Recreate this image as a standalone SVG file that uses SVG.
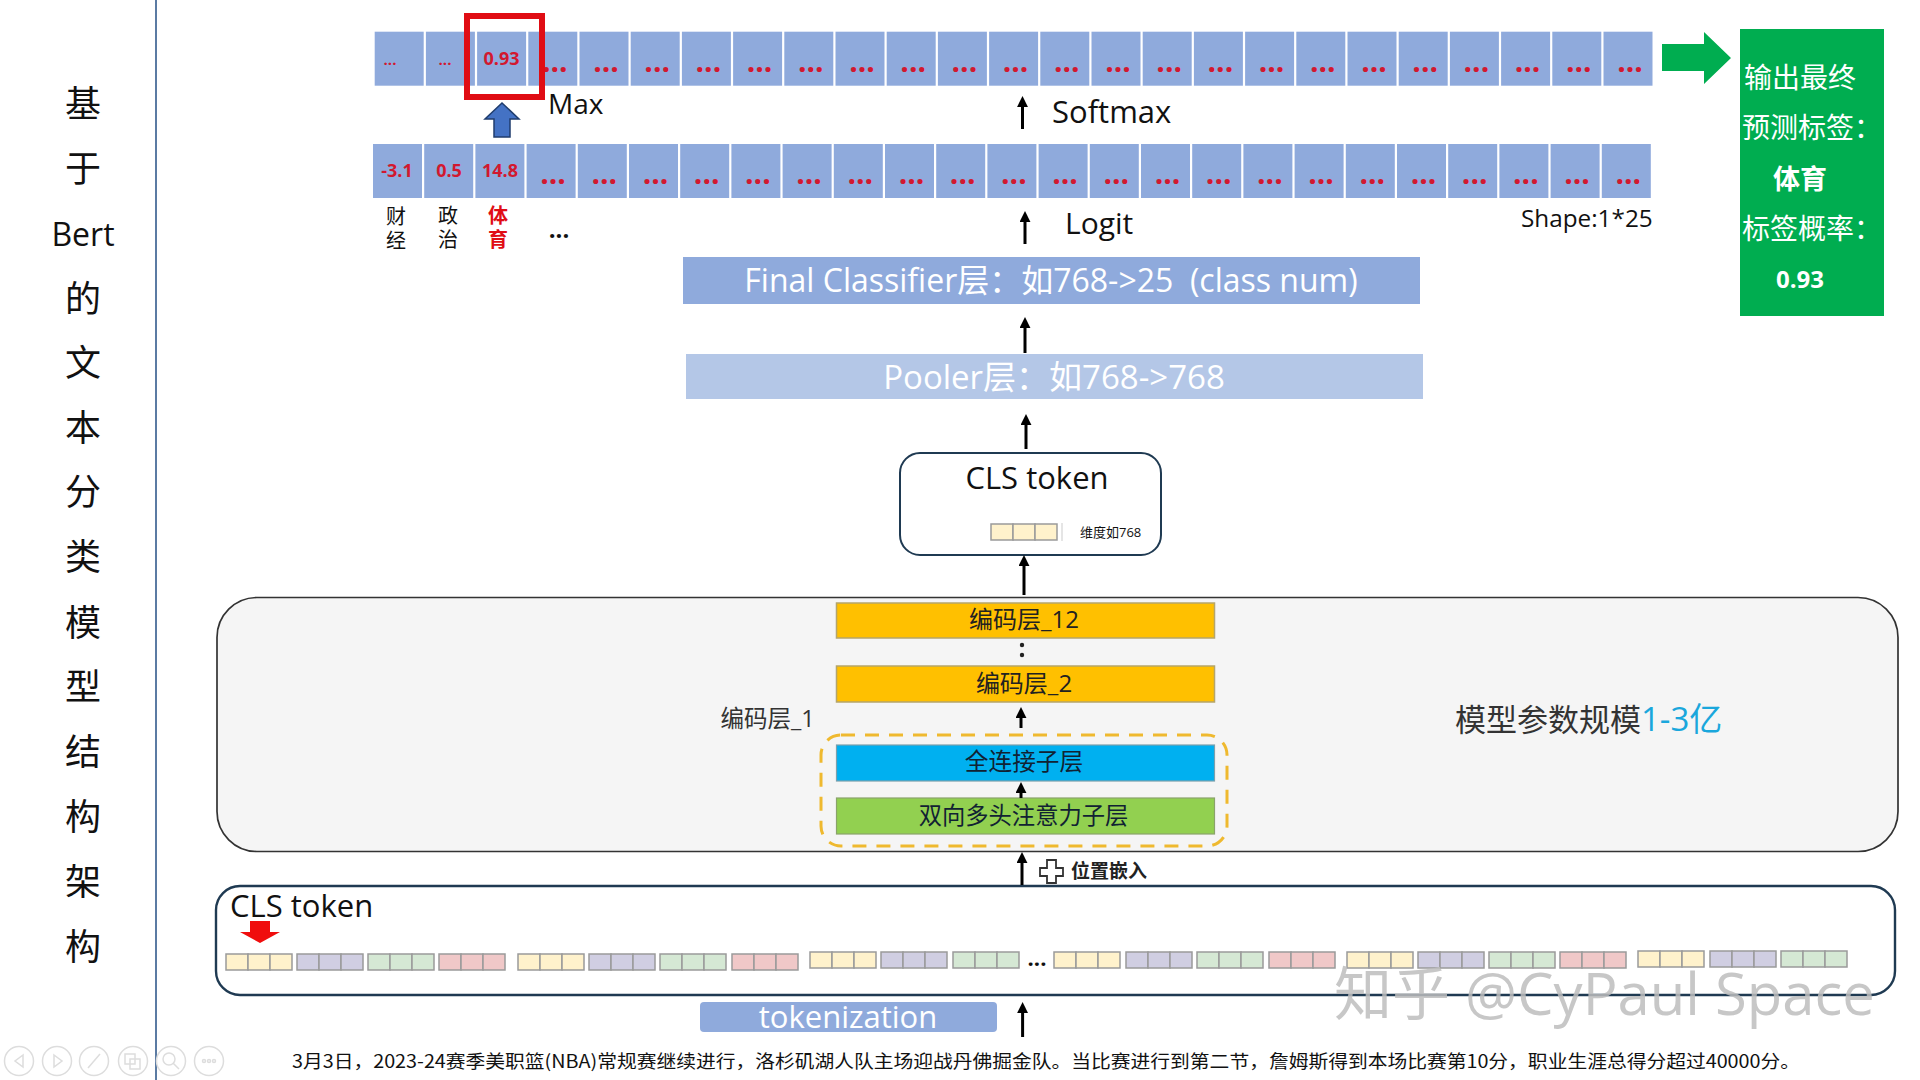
<svg xmlns="http://www.w3.org/2000/svg" width="1920" height="1080" viewBox="0 0 1920 1080">
<style>
text{font-family:"Open Sans","Noto Sans CJK SC",sans-serif;fill:#111}
.cjk{font-family:"Noto Sans CJK SC",sans-serif}
.m{text-anchor:middle}
.w{fill:#fff}
.r{fill:#d2182f;font-weight:700}
.d{fill:#d2182f;font-weight:700;font-size:30px;text-anchor:middle}
.cell{fill:#8faadc}
.enc{stroke:#b5a56a;stroke-width:1.5}
.tok{stroke:#9a9a9a;stroke-width:1.5}
.conn{stroke:#000;stroke-width:3;fill:none;marker-end:url(#ah)}
.ic{fill:none;stroke:#ddd;stroke-width:1.5}
</style>
<defs>
<marker id="ah" viewBox="0 0 10 10" refX="1" refY="5" markerWidth="11" markerHeight="11" markerUnits="userSpaceOnUse" orient="auto"><path d="M0,0L10,5L0,10z" fill="#000"/></marker>
<g id="c3"><rect width="22" height="16"/><rect x="22" width="22" height="16"/><rect x="44" width="22" height="16"/></g>
<g id="row">
<rect class="cell" x="0" width="49" height="54"/><rect class="cell" x="51.2" width="49" height="54"/><rect class="cell" x="102.4" width="49" height="54"/><rect class="cell" x="153.6" width="49" height="54"/><rect class="cell" x="204.8" width="49" height="54"/>
<rect class="cell" x="256" width="49" height="54"/><rect class="cell" x="307.2" width="49" height="54"/><rect class="cell" x="358.4" width="49" height="54"/><rect class="cell" x="409.6" width="49" height="54"/><rect class="cell" x="460.8" width="49" height="54"/>
<rect class="cell" x="512" width="49" height="54"/><rect class="cell" x="563.2" width="49" height="54"/><rect class="cell" x="614.4" width="49" height="54"/><rect class="cell" x="665.6" width="49" height="54"/><rect class="cell" x="716.8" width="49" height="54"/>
<rect class="cell" x="768" width="49" height="54"/><rect class="cell" x="819.2" width="49" height="54"/><rect class="cell" x="870.4" width="49" height="54"/><rect class="cell" x="921.6" width="49" height="54"/><rect class="cell" x="972.8" width="49" height="54"/>
<rect class="cell" x="1024" width="49" height="54"/><rect class="cell" x="1075.2" width="49" height="54"/><rect class="cell" x="1126.4" width="49" height="54"/><rect class="cell" x="1177.6" width="49" height="54"/><rect class="cell" x="1228.8" width="49" height="54"/>
</g>
</defs>
<rect width="1920" height="1080" fill="#fff"/>

<g id="side-title">
<line x1="156" y1="0" x2="156" y2="1080" stroke="#5b7ba3" stroke-width="2"/>
<text class="m cjk" x="83" y="117" font-size="36">基</text>
<text class="m cjk" x="83" y="182" font-size="36">于</text>
<text class="m" x="83" y="246" font-size="32">Bert</text>
<text class="m cjk" x="83" y="312" font-size="36">的</text>
<text class="m cjk" x="83" y="376" font-size="36">文</text>
<text class="m cjk" x="83" y="441" font-size="36">本</text>
<text class="m cjk" x="83" y="505" font-size="36">分</text>
<text class="m cjk" x="83" y="570" font-size="36">类</text>
<text class="m cjk" x="83" y="636" font-size="36">模</text>
<text class="m cjk" x="83" y="700" font-size="36">型</text>
<text class="m cjk" x="83" y="765" font-size="36">结</text>
<text class="m cjk" x="83" y="830" font-size="36">构</text>
<text class="m cjk" x="83" y="895" font-size="36">架</text>
<text class="m cjk" x="83" y="960" font-size="36">构</text>
</g>

<g id="softmax-row">
<use href="#row" x="374.7" y="31.7"/>
<text class="r m" x="390" y="65" font-size="15">...</text>
<text class="r m" x="445" y="65" font-size="15">...</text>
<text class="r m" x="501.5" y="65" font-size="18">0.93</text>
<text class="d" x="554.8" y="72">...</text><text class="d" x="606" y="72">...</text><text class="d" x="657.2" y="72">...</text><text class="d" x="708.4" y="72">...</text><text class="d" x="759.6" y="72">...</text><text class="d" x="810.8" y="72">...</text><text class="d" x="862" y="72">...</text><text class="d" x="913.2" y="72">...</text><text class="d" x="964.4" y="72">...</text><text class="d" x="1015.6" y="72">...</text><text class="d" x="1066.8" y="72">...</text><text class="d" x="1118" y="72">...</text><text class="d" x="1169.2" y="72">...</text><text class="d" x="1220.4" y="72">...</text><text class="d" x="1271.6" y="72">...</text><text class="d" x="1322.8" y="72">...</text><text class="d" x="1374" y="72">...</text><text class="d" x="1425.2" y="72">...</text><text class="d" x="1476.4" y="72">...</text><text class="d" x="1527.6" y="72">...</text><text class="d" x="1578.8" y="72">...</text><text class="d" x="1630" y="72">...</text>
</g>
<g id="max-box"><rect x="467" y="16" width="75" height="81" fill="none" stroke="#e00d14" stroke-width="6"/></g>
<g id="max-label"><text x="548" y="114" font-size="28">Max</text></g>
<g id="softmax-label"><text x="1052" y="123" font-size="31">Softmax</text></g>

<g id="logit-row">
<use href="#row" x="373" y="144"/>
<text class="r m" x="397" y="177" font-size="18">-3.1</text>
<text class="r m" x="449" y="177" font-size="18">0.5</text>
<text class="r m" x="500" y="177" font-size="18">14.8</text>
<text class="d" x="553.1" y="184">...</text><text class="d" x="604.3" y="184">...</text><text class="d" x="655.5" y="184">...</text><text class="d" x="706.7" y="184">...</text><text class="d" x="757.9" y="184">...</text><text class="d" x="809.1" y="184">...</text><text class="d" x="860.3" y="184">...</text><text class="d" x="911.5" y="184">...</text><text class="d" x="962.7" y="184">...</text><text class="d" x="1013.9" y="184">...</text><text class="d" x="1065.1" y="184">...</text><text class="d" x="1116.3" y="184">...</text><text class="d" x="1167.5" y="184">...</text><text class="d" x="1218.7" y="184">...</text><text class="d" x="1269.9" y="184">...</text><text class="d" x="1321.1" y="184">...</text><text class="d" x="1372.3" y="184">...</text><text class="d" x="1423.5" y="184">...</text><text class="d" x="1474.7" y="184">...</text><text class="d" x="1525.9" y="184">...</text><text class="d" x="1577.1" y="184">...</text><text class="d" x="1628.3" y="184">...</text>
</g>
<g id="class-labels">
<text class="m cjk" x="396" y="224" font-size="20">财<tspan x="396" dy="24">经</tspan></text>
<text class="m cjk" x="448" y="223" font-size="20">政<tspan x="448" dy="24">治</tspan></text>
<text class="m cjk" x="498" y="223" font-size="20" style="fill:#e00d14;font-weight:700">体<tspan x="498" dy="24">育</tspan></text>
<text class="m" x="559" y="238" font-size="24" font-weight="700">...</text>
</g>
<g id="logit-label"><text x="1065" y="234" font-size="30">Logit</text></g>
<g id="shape-label"><text x="1521" y="227" font-size="24.3">Shape:1*25</text></g>

<g id="output-arrow"><path d="M1662,44H1704V32L1731,58L1704,84V71H1662z" fill="#00ad50"/></g>
<g id="output-box">
<rect x="1740" y="29" width="144" height="287" fill="#00ad50"/>
<text class="cjk" style="fill:#fff" x="1744" y="88" font-size="28">输出最终</text>
<text class="cjk" style="fill:#fff" x="1742" y="138" font-size="28">预测标签：</text>
<text class="m cjk" style="fill:#fff;font-weight:700" x="1800" y="189" font-size="27">体育</text>
<text class="cjk" style="fill:#fff" x="1742" y="239" font-size="28">标签概率：</text>
<text class="m" style="fill:#fff;font-weight:700" x="1800" y="288" font-size="24">0.93</text>
</g>

<g id="classifier"><rect x="683" y="257" width="737" height="47" fill="#8faadc"/>
<text class="m w" x="1051" y="292" font-size="32" xml:space="preserve">Final Classifier层：如768-&gt;25  (class num)</text></g>
<g id="pooler"><rect x="686" y="354" width="737" height="45" fill="#b4c7e7"/>
<text class="m w" x="1054" y="389" font-size="33">Pooler层：如768-&gt;768</text></g>

<g id="cls-output">
<rect x="900" y="453" width="261" height="102" rx="20" fill="#fff" stroke="#1f3a52" stroke-width="2"/>
<text class="m" x="1037" y="489" font-size="31">CLS token</text>
<g class="tok"><use href="#c3" x="991" y="524" fill="#fff2cc"/></g>
<line x1="1062" y1="523" x2="1062" y2="541" stroke="#ddd" stroke-width="1.5"/>
<text x="1080" y="537" font-size="13">维度如768</text>
</g>

<g id="encoder-block">
<rect x="217" y="597.5" width="1681" height="254" rx="40" fill="#f5f5f5" stroke="#333" stroke-width="1.7"/>
<text x="720.5" y="727" font-size="23.5" style="fill:#333">编码层_1</text>
<text x="1455" y="731" font-size="31" style="fill:#333">模型参数规模<tspan font-size="33" style="fill:#1aa7dc">1-3亿</tspan></text>
<circle cx="1022" cy="645" r="2.2" fill="#222"/><circle cx="1022" cy="655" r="2.2" fill="#222"/>
<rect x="821" y="735" width="406" height="111" rx="20" fill="none" stroke="#efb92f" stroke-width="3" stroke-dasharray="14 10"/>
</g>
<g id="encoder-12"><rect class="enc" x="836.5" y="603" width="378" height="35" fill="#ffc000"/><text class="m" x="1024" y="628" font-size="24" style="fill:#222">编码层_12</text></g>
<g id="encoder-2"><rect class="enc" x="836.5" y="666" width="378" height="36" fill="#ffc000"/><text class="m" x="1024" y="692" font-size="24" style="fill:#222">编码层_2</text></g>
<g id="ffn-sublayer"><rect x="836.5" y="745" width="378" height="36" fill="#00b0f0" stroke="#7ba0ac" stroke-width="1.2"/><text class="m" x="1024" y="770" font-size="23.7" style="fill:#123">全连接子层</text></g>
<g id="attention-sublayer"><rect x="836.5" y="798" width="378" height="36" fill="#92d050" stroke="#8aa36a" stroke-width="1.2"/><text class="m" x="1023.5" y="824" font-size="23.3" style="fill:#123">双向多头注意力子层</text></g>

<g id="position-embedding">
<path d="M1047,860h9v8h7v8h-7v7h-9v-7h-7v-8h7z" fill="#fff" stroke="#333" stroke-width="1.8"/>
<text x="1071" y="878" font-size="19" font-weight="700" style="fill:#222">位置嵌入</text>
</g>

<g id="token-sequence">
<rect x="216" y="886" width="1679" height="109" rx="24" fill="#fff" stroke="#1f3a52" stroke-width="2.4"/>
<text x="230" y="917" font-size="31">CLS token</text>
<path d="M250,921h20v11h10l-20,11l-20,-11h10z" fill="#f00d0d"/>
<g class="tok">
<use href="#c3" x="226" y="954" fill="#fff2cc"/><use href="#c3" x="297" y="954" fill="#d0cee2"/><use href="#c3" x="368" y="954" fill="#d5e8d4"/><use href="#c3" x="439" y="954" fill="#f0c8c8"/>
<use href="#c3" x="518" y="954" fill="#fff2cc"/><use href="#c3" x="589" y="954" fill="#d0cee2"/><use href="#c3" x="660" y="954" fill="#d5e8d4"/><use href="#c3" x="732" y="954" fill="#f0c8c8"/>
<use href="#c3" x="810" y="952" fill="#fff2cc"/><use href="#c3" x="881" y="952" fill="#d0cee2"/><use href="#c3" x="953" y="952" fill="#d5e8d4"/>
<use href="#c3" x="1054" y="952" fill="#fff2cc"/><use href="#c3" x="1126" y="952" fill="#d0cee2"/><use href="#c3" x="1197" y="952" fill="#d5e8d4"/><use href="#c3" x="1269" y="952" fill="#f0c8c8"/>
<use href="#c3" x="1347" y="952" fill="#fff2cc"/><use href="#c3" x="1418" y="952" fill="#d0cee2"/><use href="#c3" x="1489" y="952" fill="#d5e8d4"/><use href="#c3" x="1560" y="952" fill="#f0c8c8"/>
<use href="#c3" x="1638" y="951" fill="#fff2cc"/><use href="#c3" x="1710" y="951" fill="#d0cee2"/><use href="#c3" x="1781" y="951" fill="#d5e8d4"/>
</g>
<text class="m" x="1037" y="966" font-size="22" font-weight="700">...</text>
</g>

<g id="tokenization"><rect x="700" y="1002" width="297" height="30" rx="4" fill="#8faadc"/>
<text class="m w" x="848" y="1028" font-size="31">tokenization</text></g>

<g id="input-text"><text class="cjk" x="292" y="1068" font-size="18" textLength="1508" lengthAdjust="spacingAndGlyphs">3月3日，2023-24赛季美职篮(NBA)常规赛继续进行，洛杉矶湖人队主场迎战丹佛掘金队。当比赛进行到第二节，詹姆斯得到本场比赛第10分，职业生涯总得分超过40000分。</text></g>

<g id="connectors">
<path d="M502,103L519,119H510V137H494V119H485z" fill="#4472c4" stroke="#1f3d6e" stroke-width="1.5"/>
<line class="conn" x1="1022.5" y1="129" x2="1022.5" y2="106"/>
<line class="conn" x1="1025" y1="244" x2="1025" y2="221"/>
<line class="conn" x1="1025" y1="353" x2="1025" y2="327"/>
<line class="conn" x1="1026" y1="449" x2="1026" y2="424"/>
<line class="conn" x1="1024" y1="595" x2="1024" y2="565"/>
<line class="conn" x1="1021" y1="728" x2="1021" y2="717"/>
<line class="conn" x1="1021" y1="798" x2="1021" y2="792"/>
<line class="conn" x1="1022" y1="885" x2="1022" y2="862"/>
<line class="conn" x1="1022.6" y1="1037" x2="1022.6" y2="1012"/>
</g>

<g id="watermark"><text x="1334" y="1015" font-size="58" style="fill:#bdbdbd" fill-opacity=".85">知乎 @CyPaul Space</text></g>

<g id="player-controls">
<circle class="ic" cx="19" cy="1061" r="14.5"/><path class="ic" d="M23,1055L15,1061L23,1067z"/>
<circle class="ic" cx="57" cy="1061" r="14.5"/><path class="ic" d="M54,1055L62,1061L54,1067z"/>
<circle class="ic" cx="94" cy="1061" r="14.5"/><path class="ic" d="M88,1068L100,1054"/>
<circle class="ic" cx="133" cy="1061" r="14.5"/><rect class="ic" x="125" y="1054" width="10" height="10"/><rect class="ic" x="130" y="1059" width="10" height="10"/>
<circle class="ic" cx="171" cy="1061" r="14.5"/><circle class="ic" cx="169" cy="1059" r="6"/><path class="ic" d="M173,1063L179,1069"/>
<circle class="ic" cx="209" cy="1061" r="14.5"/><circle class="ic" cx="204" cy="1061" r="1.5"/><circle class="ic" cx="209" cy="1061" r="1.5"/><circle class="ic" cx="214" cy="1061" r="1.5"/>
</g>
</svg>
